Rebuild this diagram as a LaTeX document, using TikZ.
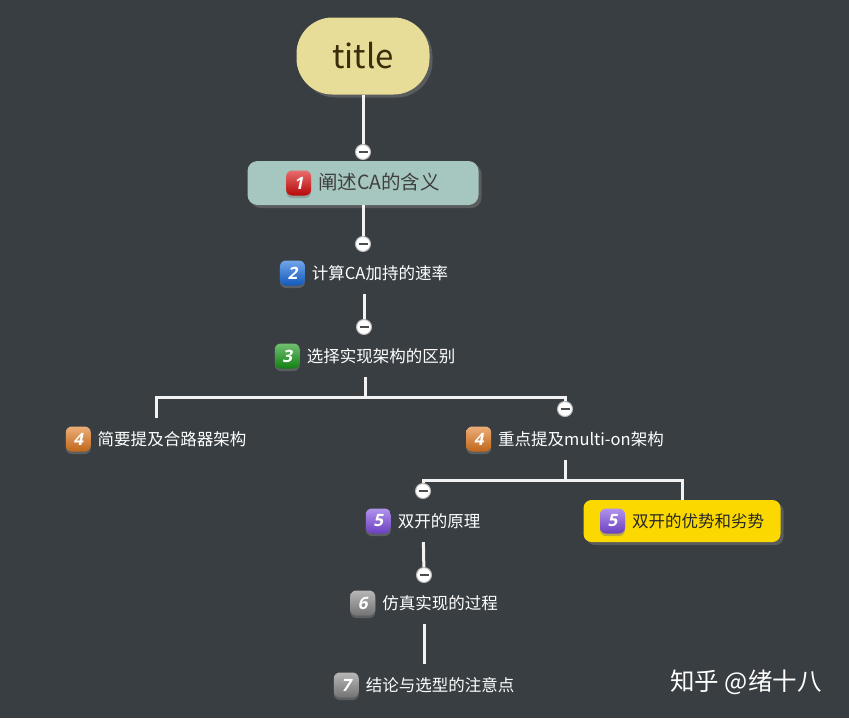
\documentclass[tikz,border=0pt]{standalone}
\usepackage{fontspec}
\setmainfont{Noto Sans CJK SC}
\newfontfamily\numfont[FakeSlant=0.2]{Open Sans}
\usetikzlibrary{shadows}

\definecolor{canvas}{RGB}{57,62,66}
\definecolor{rootfill}{RGB}{232,221,152}
\definecolor{roottext}{RGB}{58,46,10}
\definecolor{subfill}{RGB}{166,199,192}
\definecolor{hotfill}{RGB}{250,216,0}
\definecolor{badgeRed}{RGB}{215,10,10}
\definecolor{badgeBlue}{RGB}{20,105,220}
\definecolor{badgeGreen}{RGB}{20,150,20}
\definecolor{badgeOrange}{RGB}{225,120,30}
\definecolor{badgePurple}{RGB}{125,75,225}
\definecolor{badgeGray}{RGB}{135,135,135}

\tikzset{
  link/.style={draw=white!95!black, line width=3},
  fold/.style={circle, fill=white, draw=gray!55, line width=1, minimum size=15, inner sep=0,
    path picture={\draw[gray!60!black, line width=1.6]
      ([xshift=-4.5]path picture bounding box.center) -- ([xshift=4.5]path picture bounding box.center);}},
  topic/.style={text=white, font=\fontsize{16.5}{20}\selectfont, minimum height=42, inner sep=0},
  rootbox/.style={fill=rootfill, text=roottext, rounded corners=36, minimum width=133, minimum height=77,
    font=\fontsize{33}{36}\selectfont, drop shadow={shadow xshift=3, shadow yshift=3, opacity=0.45}},
  subbox/.style={fill=subfill, text=black!75, rounded corners=10, minimum width=231, minimum height=44,
    inner sep=0, font=\fontsize{19.5}{22}\selectfont, drop shadow={shadow xshift=3, shadow yshift=3, opacity=0.45}},
  hotbox/.style={fill=hotfill, text=black!85, rounded corners=8, minimum width=197, minimum height=42,
    inner sep=0, font=\fontsize{16.5}{20}\selectfont, drop shadow={shadow xshift=3, shadow yshift=3, opacity=0.45}},
  badgebox/.style={rounded corners=6, minimum width=25, minimum height=25, inner sep=0, text=white,
    font=\numfont\bfseries\fontsize{17}{17}\selectfont, drop shadow={shadow xshift=0, shadow yshift=2.5, opacity=0.5}}
}

% numbered marker in front of a topic
\newcommand\badge[2]{%
  \tikz[baseline={([yshift=-6pt]bd.center)}]
    \node[badgebox, top color=#1!60!white, bottom color=#1!85!black] (bd) {#2};}

\begin{document}
\begin{tikzpicture}[x=1pt, y=-1pt]
\fill[canvas] (0,0) rectangle (849,718);
\useasboundingbox (0,0) rectangle (849,718);

% topics
\node[rootbox] (title) at (363,56) {title};
\node[subbox] (n1) at (363,183) {\badge{badgeRed}{1}\hspace{7pt}阐述CA的含义};
\node[topic] (n2) at (364,273) {\badge{badgeBlue}{2}\hspace{7pt}计算CA加持的速率};
\node[topic] (n3) at (365,356) {\badge{badgeGreen}{3}\hspace{7pt}选择实现架构的区别};
\node[topic] (n4a) at (156,439) {\badge{badgeOrange}{4}\hspace{7pt}简要提及合路器架构};
\node[topic] (n4b) at (565,439) {\badge{badgeOrange}{4}\hspace{7pt}重点提及multi-on架构};
\node[topic] (n5a) at (423,521) {\badge{badgePurple}{5}\hspace{7pt}双开的原理};
\node[hotbox] (n5b) at (682,521) {\badge{badgePurple}{5}\hspace{7pt}双开的优势和劣势};
\node[topic] (n6) at (424,603) {\badge{badgeGray}{6}\hspace{7pt}仿真实现的过程};
\node[topic] (n7) at (424,685) {\badge{badgeGray}{7}\hspace{7pt}结论与选型的注意点};

% collapse markers
\node[fold] (m1) at (363,152) {};
\node[fold] (m2) at (363,244) {};
\node[fold] (m3) at (364,327) {};
\node[fold] (m4b) at (565,409) {};
\node[fold] (m5a) at (423,491) {};
\node[fold] (m6) at (424,575) {};

\coordinate (j3) at (365,397);
\coordinate (j4) at (565,480);

% connectors
\draw[link] (title) -- (m1);
\draw[link] (n1) -- (m2);
\draw[link] (n2) -- (m3);
\draw[link] (n3) -- (j3);
\draw[link] (j3) -| (n4a);
\draw[link] (j3) -| (m4b);
\draw[link] (n4b) -- (j4);
\draw[link] (j4) -| (m5a);
\draw[link] (j4) -| (n5b);
\draw[link] (n5a) -- (m6);
\draw[link] (n6) -- (n7);

\node[text=white, font=\fontsize{24.5}{28}\selectfont] (mark) at (746,682) {知乎 @绪十八};
\end{tikzpicture}
\end{document}
